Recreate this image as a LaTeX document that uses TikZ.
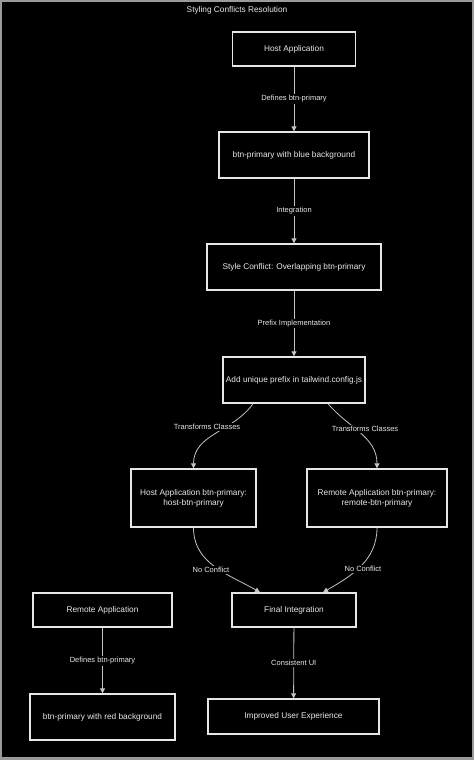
\documentclass[tikz,border=0pt]{standalone}
\usepackage{fontspec}
\setmainfont{Liberation Sans}
\usetikzlibrary{arrows.meta}
\definecolor{frame}{HTML}{9A9A9A}
\definecolor{boxline}{HTML}{E6E6E6}
\definecolor{edgeline}{HTML}{C4C4C4}
\definecolor{txt}{HTML}{E8E8E8}
\tikzset{
  stepbox/.style={draw=boxline,line width=1.3pt,text=txt,font=\fontsize{8.3}{10}\selectfont,align=center,inner sep=0pt},
  flow/.style={draw=edgeline,line width=0.8pt,-{Triangle[width=5pt,length=5pt]}},
  tag/.style={fill=black,text=txt,font=\fontsize{7.5}{9}\selectfont,inner sep=1.5pt}
}
\begin{document}
\begin{tikzpicture} [x=1pt,y=-1pt]
%frame
        \fill[frame] (0,0) rectangle (474,760);
        \fill[black] (2,2) rectangle (471.5,756.5);
        \useasboundingbox (0,0) rectangle (474,760);
        \node[text=txt,font=\fontsize{8.3}{10}\selectfont] (title) at (237,10) {Styling Conflicts Resolution};
%boxes
        \node[stepbox,minimum width=123pt,minimum height=34pt] (host) at (294,49) {Host Application};
        \node[stepbox,minimum width=150pt,minimum height=46pt] (blue) at (294,155) {btn-primary with blue background};
        \node[stepbox,minimum width=174pt,minimum height=46pt] (conflict) at (294,267) {Style Conflict: Overlapping btn-primary};
        \node[stepbox,minimum width=142pt,minimum height=46pt] (prefix) at (294,380) {Add unique prefix in tailwind.config.js};
        \node[stepbox,minimum width=125pt,minimum height=58pt] (hostbtn) at (193.5,498) {Host Application btn-primary:\\host-btn-primary};
        \node[stepbox,minimum width=140pt,minimum height=58pt] (remotebtn) at (377,498) {Remote Application btn-primary:\\remote-btn-primary};
        \node[stepbox,minimum width=124pt,minimum height=34pt] (final) at (294,610) {Final Integration};
        \node[stepbox,minimum width=139pt,minimum height=34pt] (remote) at (102.5,610) {Remote Application};
        \node[stepbox,minimum width=145pt,minimum height=46pt] (red) at (102.5,717) {btn-primary with red background};
        \node[stepbox,minimum width=171pt,minimum height=35pt] (ux) at (293.5,716.5) {Improved User Experience};
%straight edges
        \draw [flow] (host) -- node[tag] {Defines btn-primary} (blue);
        \draw [flow] (blue) -- node[tag] {Integration} (conflict);
        \draw [flow] (conflict) -- node[tag] {Prefix Implementation} (prefix);
        \draw [flow] (remote) -- node[tag] {Defines btn-primary} (red);
        \draw [flow] (final) -- node[tag] {Consistent UI} (ux);
%curved edges
        \draw [flow] ([xshift=-41pt]prefix.south) to[out=-125,in=90] (hostbtn.north);
        \draw [flow] ([xshift=34pt]prefix.south) to[out=-50,in=90] (remotebtn.north);
        \draw [flow] (hostbtn.south) to[out=-90,in=150] ([xshift=-34pt]final.north);
        \draw [flow] (remotebtn.south) to[out=-90,in=30] ([xshift=29pt]final.north);
        \node[tag] (tcl) at (207,427) {Transforms Classes};
        \node[tag] (tcr) at (365,429) {Transforms Classes};
        \node[tag] (ncl) at (211,570) {No Conflict};
        \node[tag] (ncr) at (363,569) {No Conflict};
    \end{tikzpicture}
\end{document}
